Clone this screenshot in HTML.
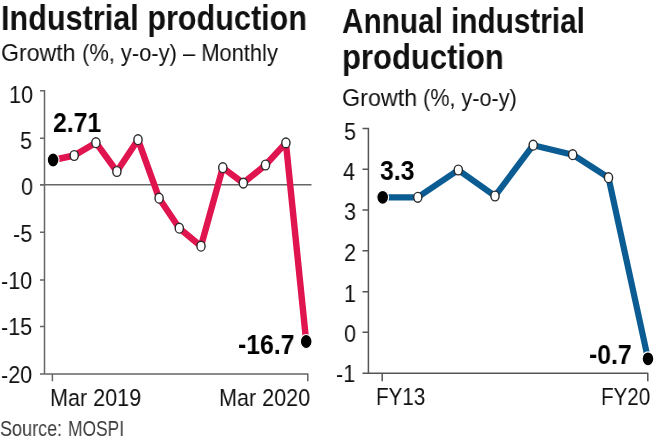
<!DOCTYPE html>
<html><head><meta charset="utf-8">
<style>
html,body{margin:0;padding:0;background:#fff;}
body{width:660px;height:440px;position:relative;overflow:hidden;font-family:"Liberation Sans",sans-serif;color:#111;}
.t{position:absolute;white-space:nowrap;transform-origin:0 0;line-height:1;will-change:transform;}
.b{font-weight:bold;}
svg{position:absolute;left:0;top:0;}
</style></head><body>
<svg width="660" height="440" viewBox="0 0 660 440">
<path d="M44.5 90.1V374.7M40 90.8H44.5M40 138.3H44.5M40 184.85H44.5M40 232.3H44.5M40 279.9H44.5M40 326.4H44.5M40 374H308.5M52.4 374V381.3M307.8 374V381.3" stroke="#666" stroke-width="1.5" fill="none"/>
<path d="M40 184.85H311.5" stroke="#666" stroke-width="1.5" fill="none"/>
<path d="M368.4 127.7V374M362.5 128.4H368.4M362.5 169.2H368.4M362.5 210H368.4M362.5 250.8H368.4M362.5 291.8H368.4M362.5 332.3H368.4M362.5 373.3H648.3M382.2 373.3V381.3M647.8 373.3V381.3" stroke="#555" stroke-width="1.5" fill="none"/>
<polyline fill="none" stroke="#e0154f" stroke-width="6.4" stroke-linejoin="round" points="53.1,160 74.2,155.5 95.9,142.7 116.9,171.5 138,139.7 159.1,198.2 179.3,228.2 201,246.2 222.8,167.7 243.3,183.1 265.5,165 285.9,142.9 306.2,341.5"/><g fill="#fff" stroke="#2a2a2a" stroke-width="1.4"><ellipse cx="74.2" cy="155.5" rx="4.1" ry="4.9"/><ellipse cx="95.9" cy="142.7" rx="4.1" ry="4.9"/><ellipse cx="116.9" cy="171.5" rx="4.1" ry="4.9"/><ellipse cx="138" cy="139.7" rx="4.1" ry="4.9"/><ellipse cx="159.1" cy="198.2" rx="4.1" ry="4.9"/><ellipse cx="179.3" cy="228.2" rx="4.1" ry="4.9"/><ellipse cx="201" cy="246.2" rx="4.1" ry="4.9"/><ellipse cx="222.8" cy="167.7" rx="4.1" ry="4.9"/><ellipse cx="243.3" cy="183.1" rx="4.1" ry="4.9"/><ellipse cx="265.5" cy="165" rx="4.1" ry="4.9"/><ellipse cx="285.9" cy="142.9" rx="4.1" ry="4.9"/></g><g fill="#000" stroke="#fff" stroke-width="1.2"><ellipse cx="53.1" cy="160" rx="5.9" ry="7.0"/><ellipse cx="306.2" cy="341.5" rx="5.9" ry="7.0"/></g>
<polyline fill="none" stroke="#0b5c93" stroke-width="6.2" stroke-linejoin="round" points="382.7,197.3 417.8,197.3 458.3,170 495,196 533.2,145.2 572.7,154.7 608.5,177.7 648,358.8"/><g fill="#fff" stroke="#2a2a2a" stroke-width="1.4"><ellipse cx="417.8" cy="197.3" rx="4.1" ry="4.9"/><ellipse cx="458.3" cy="170" rx="4.1" ry="4.9"/><ellipse cx="495" cy="196" rx="4.1" ry="4.9"/><ellipse cx="533.2" cy="145.2" rx="4.1" ry="4.9"/><ellipse cx="572.7" cy="154.7" rx="4.1" ry="4.9"/><ellipse cx="608.5" cy="177.7" rx="4.1" ry="4.9"/></g><g fill="#000" stroke="#fff" stroke-width="1.2"><ellipse cx="382.7" cy="197.3" rx="5.9" ry="7.0"/><ellipse cx="648" cy="358.8" rx="5.9" ry="7.0"/></g>
</svg>
<div class="t b" id="t1" style="left:0.51px;top:-0.41px;font-size:35.20px;transform:scaleX(0.8699);color:#111">Industrial production</div>
<div class="t" id="s1a" style="left:0.57px;top:40.70px;font-size:24.50px;transform:scaleX(0.9440);color:#111">Growth</div>
<div class="t" id="s1" style="left:81.59px;top:40.70px;font-size:24.50px;transform:scaleX(0.8937);color:#111">(%, y-o-y) – Monthly</div>
<div class="t b" id="t2" style="left:341.71px;top:2.53px;font-size:35.20px;transform:scaleX(0.8453);color:#111">Annual industrial</div>
<div class="t b" id="t3" style="left:341.65px;top:38.67px;font-size:35.20px;transform:scaleX(0.8806);color:#111">production</div>
<div class="t" id="s2a" style="left:341.51px;top:85.70px;font-size:24.50px;transform:scaleX(0.9529);color:#111">Growth</div>
<div class="t" id="s2" style="left:422.66px;top:85.70px;font-size:24.50px;transform:scaleX(0.8831);color:#111">(%, y-o-y)</div>
<div class="t" id="src" style="left:-0.17px;top:417.78px;font-size:21.88px;transform:scaleX(0.8236);color:#3a3a3a">Source:</div>
<div class="t" id="srcb" style="left:67.99px;top:417.78px;font-size:21.88px;transform:scaleX(0.7958);color:#3a3a3a">MOSPI</div>
<div class="t" id="yl10" style="left:8.57px;top:82.76px;font-size:24.50px;transform:scaleX(0.8800);color:#111">10</div>
<div class="t" id="yl5" style="left:19.83px;top:128.69px;font-size:24.50px;transform:scaleX(0.8800);color:#111">5</div>
<div class="t" id="yl0" style="left:21.02px;top:175.47px;font-size:24.50px;transform:scaleX(0.8800);color:#111">0</div>
<div class="t" id="ylm5" style="left:12.66px;top:222.18px;font-size:24.50px;transform:scaleX(0.8800);color:#111">-5</div>
<div class="t" id="ylm10" style="left:0.92px;top:269.10px;font-size:24.50px;transform:scaleX(0.8800);color:#111">-10</div>
<div class="t" id="ylm15" style="left:0.84px;top:314.59px;font-size:24.50px;transform:scaleX(0.8800);color:#111">-15</div>
<div class="t" id="ylm20" style="left:1.40px;top:362.53px;font-size:24.50px;transform:scaleX(0.8800);color:#111">-20</div>
<div class="t" id="yr5" style="left:344.19px;top:119.95px;font-size:24.50px;transform:scaleX(0.8800);color:#111">5</div>
<div class="t" id="yr4" style="left:343.44px;top:160.16px;font-size:24.50px;transform:scaleX(0.8800);color:#111">4</div>
<div class="t" id="yr3" style="left:344.46px;top:199.95px;font-size:24.50px;transform:scaleX(0.8800);color:#111">3</div>
<div class="t" id="yr2" style="left:343.81px;top:241.27px;font-size:24.50px;transform:scaleX(0.8800);color:#111">2</div>
<div class="t" id="yr1" style="left:343.80px;top:282.01px;font-size:24.50px;transform:scaleX(0.8800);color:#111">1</div>
<div class="t" id="yr0" style="left:343.58px;top:321.61px;font-size:24.50px;transform:scaleX(0.8800);color:#111">0</div>
<div class="t" id="yrm1" style="left:336.42px;top:362.36px;font-size:24.50px;transform:scaleX(0.8800);color:#111">-1</div>
<div class="t" id="xm19" style="left:50.31px;top:385.56px;font-size:24.50px;transform:scaleX(0.8800);color:#111">Mar 2019</div>
<div class="t" id="xm20" style="left:218.83px;top:386.03px;font-size:24.50px;transform:scaleX(0.8800);color:#111">Mar 2020</div>
<div class="t" id="xfy13" style="left:375.86px;top:385.16px;font-size:24.50px;transform:scaleX(0.8400);color:#111">FY13</div>
<div class="t" id="xfy20" style="left:601.18px;top:385.06px;font-size:24.50px;transform:scaleX(0.8400);color:#111">FY20</div>
<div class="t b" id="v271" style="left:52.66px;top:108.70px;font-size:27.80px;transform:scaleX(0.8900);color:#000">2.71</div>
<div class="t b" id="v167" style="left:237.55px;top:330.85px;font-size:27.80px;transform:scaleX(0.8900);color:#000">-16.7</div>
<div class="t b" id="v33" style="left:379.80px;top:157.13px;font-size:27.80px;transform:scaleX(0.8900);color:#000">3.3</div>
<div class="t b" id="v07" style="left:588.93px;top:341.04px;font-size:27.80px;transform:scaleX(0.8900);color:#000">-0.7</div>
</body></html>
